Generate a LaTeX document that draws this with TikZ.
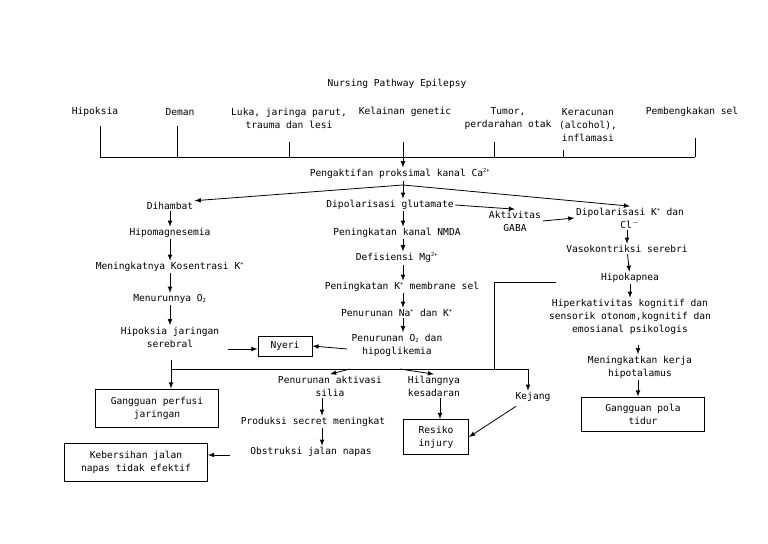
\documentclass[tikz,border=0pt]{standalone}
\usepackage{fontspec}
\setmainfont{DejaVu Sans Mono}
\setmonofont{DejaVu Sans Mono}
\begin{document}
\begin{tikzpicture}[x=0.75pt,y=-0.75pt,
  t/.style={inner sep=1pt,align=center,font=\ttfamily\fontsize{7.2}{9.75}\selectfont},
  bx/.style={t,draw,line width=0.7pt,inner sep=2pt},
  ln/.style={draw,line width=0.6pt},
  ar/.style={ln,-latex}]
\useasboundingbox (0,0) rectangle (768,543);
\newcommand{\sx}[1]{\textsuperscript{\fontsize{4}{4}\selectfont #1}}
\newcommand{\bx}[1]{\textsubscript{\fontsize{4}{4}\selectfont #1}}
\node[t] (title) at (397,84) {Nursing Pathway Epilepsy};
\node[t] (hip) at (95,112) {Hipoksia};
\node[t] (dem) at (180,112) {Deman};
\node[t] (luk) at (289,118) {Luka, jaringa parut,\\trauma dan lesi};
\node[t] (kel) at (405,112) {Kelainan genetic};
\node[t] (tum) at (508,124) {Tumor,\\perdarahan otak\\ \phantom{x}};
\node[t] (ker) at (588,125) {Keracunan\\(alcohol),\\inflamasi};
\node[t] (pem) at (692,112) {Pembengkakan sel};
\coordinate (h1) at (100,157); \coordinate (h2) at (695,157);
\draw[ln] (h1) -- (h2);
\draw[ln] (100,126) -- (100,157);
\draw[ln] (177,126) -- (177,157);
\draw[ln] (289,142) -- (289,157);
\draw[ln] (494,142) -- (494,157);
\draw[ln] (563,150) -- (563,157);
\draw[ln] (695,138) -- (695,157);
\node[t] (pen) at (400,174) {Pengaktifan proksimal kanal Ca\sx{2+}};
\coordinate (kt) at (403,142);
\draw[ar] (kt) -- (pen.north -| kt);
\coordinate (apex) at (403,185);
\draw[ln] (pen.south -| apex) -- (apex);
% left column
\node[t] (dih) at (170,206) {Dihambat};
\node[t] (hmg) at (170,233) {Hipomagnesemia};
\node[t] (mkk) at (170,267) {Meningkatnya Kosentrasi K\sx{+}};
\node[t] (mo2) at (170,299) {Menurunnya O\bx{2}};
\node[t] (hjs) at (170,337) {Hipoksia jaringan\\serebral};
\draw[ar] (apex) -- (dih.north east);
\draw[ar] (dih) -- (hmg);
\draw[ar] (hmg) -- (mkk);
\draw[ar] (mkk) -- (mo2);
\draw[ar] (mo2) -- (hjs);
\node[bx,minimum width=54*0.75pt,minimum height=20*0.75pt] (nye) at (285,346) {Nyeri};
\coordinate (hjo) at (228,349);
\draw[ar] (hjo) -- (nye.west |- hjo);
% middle column
\node[t] (dgl) at (390,205) {Dipolarisasi glutamate};
\node[t] (nmd) at (397,233) {Peningkatan kanal NMDA};
\node[t] (mg) at (397,258) {Defisiensi Mg\sx{2+}};
\node[t] (pkm) at (402,287) {Peningkatan K\sx{+} membrane sel};
\node[t] (pna) at (397,313) {Penurunan Na\sx{+} dan K\sx{+}};
\node[t] (po2) at (397,345) {Penurunan O\bx{2} dan\\hipoglikemia};
\draw[ar] (apex) -- (dgl.north -| apex);
\draw[ar] (dgl.south -| apex) -- (nmd.north -| apex);
\draw[ar] (nmd.south -| apex) -- (mg.north -| apex);
\draw[ar] (mg.south -| apex) -- (pkm.north -| apex);
\draw[ar] (pkm.south -| apex) -- (pna.north -| apex);
\draw[ar] (pna.south -| apex) -- (po2.north -| apex);
\draw[ar] (po2.west) ++(-3,4) coordinate (pw) -- (nye.east);
% right
\node[t] (gab) at (515,221) {Aktivitas\\GABA};
\node[t] (dkc) at (630,218) {Dipolarisasi K\sx{+} dan\\Cl\sx{$-$}};
\draw[ar] (dgl.east) -- (gab.north);
\draw[ar] (gab.east) -- (dkc.west);
\draw[ar] (apex) -- (dkc.north);
\node[t] (vas) at (627,249) {Vasokontriksi serebri};
\node[t] (hka) at (630,278) {Hipokapnea};
\node[t] (hpk) at (630,317) {Hiperkativitas kognitif dan\\sensorik otonom,kognitif dan\\emosianal psikologis};
\node[t] (mkh) at (640,367) {Meningkatkan kerja\\hipotalamus};
\node[bx,minimum width=123*0.75pt,minimum height=34*0.75pt] (gpt) at (643,414) {Gangguan pola\\tidur};
\draw[ar] (dkc.south -| vas) -- (vas);
\draw[ar] (vas) -- (hka);
\draw[ar] (hka) -- (hpk.north -| hka);
\coordinate (m1) at (638,345);
\draw[ar] (m1) -- (mkh.north -| m1);
\draw[ar] (mkh.south -| m1) -- (gpt.north -| m1);
% bottom
\coordinate (b0) at (171,360);
\coordinate (b1) at (171,369);
\coordinate (b2) at (528,369);
\coordinate (up1) at (494,369);
\coordinate (up2) at (494,282);
\coordinate (up3) at (556,282);
\draw[ln] (b1) -- (b2);
\draw[ln] (up1) -- (up2) -- (up3);
\node[bx,minimum width=123*0.75pt,minimum height=38*0.75pt] (gpj) at (157,408) {Gangguan perfusi\\jaringan};
\draw[ar] (b0) -- (gpj.north -| b0);
\node[t] (pas) at (330,386) {Penurunan aktivasi\\silia};
\node[t] (hil) at (434,386) {Hilangnya\\kesadaran};
\node[t] (kej) at (533,397) {Kejang};
\draw[ar] (350,369) -- (pas.north);
\draw[ar] (400,369) -- (hil.north);
\draw[ar] (b2) -- (kej.north -| b2);
\node[t] (psm) at (313,422) {Produksi secret meningkat};
\node[t] (ojn) at (311,452) {Obstruksi jalan napas};
\draw[ar] (pas.south -| 322,0) -- (psm.north -| 322,0);
\draw[ar] (psm.south -| 322,0) -- (ojn.north -| 322,0);
\node[bx,minimum width=143*0.75pt,minimum height=38*0.75pt] (keb) at (136,462) {Kebersihan jalan\\napas tidak efektif};
\coordinate (ojw) at (230,455);
\draw[ar] (ojw) -- (keb.east |- ojw);
\node[bx,minimum width=65*0.75pt,minimum height=35*0.75pt] (res) at (436,437) {Resiko\\injury};
\draw[ar] (hil.south -| 440,0) -- (res.north -| 440,0);
\draw[ar] (kej.south west) ++(2,3) -- (res.east);
\end{tikzpicture}
\end{document}
